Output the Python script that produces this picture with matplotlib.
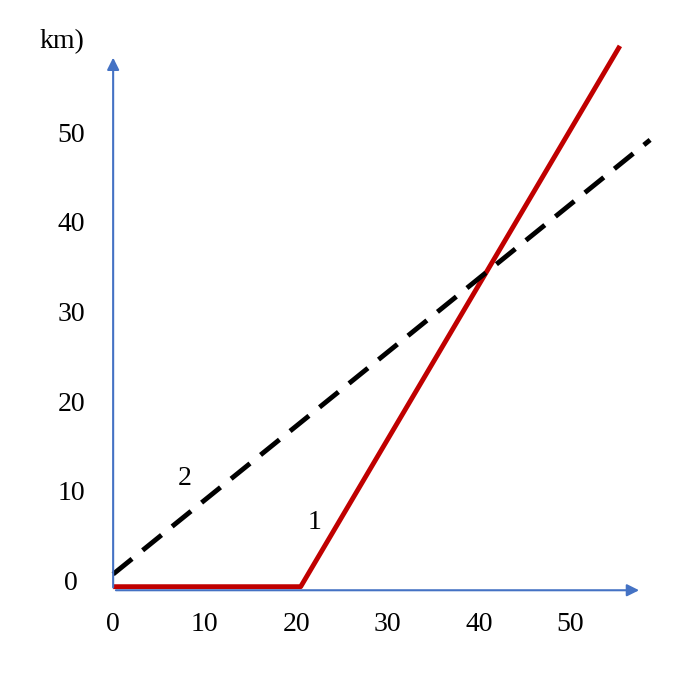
import matplotlib
matplotlib.use("Agg")
import matplotlib.pyplot as plt

red_x = [0, 20.5, 55.4]
red_y = [-0.4, -0.4, 60]
black_x = [0, 58.7]
black_y = [1, 49.5]
xticks = [0, 10, 20, 30, 40, 50]
yticks = [0, 10, 20, 30, 40, 50]

plt.rcParams['font.family'] = ['Liberation Serif', 'DejaVu Serif']
fig = plt.figure(figsize=(7, 6.94), dpi=100)
W, H = 700, 694
ax = fig.add_axes([104/W, 1-601/H, 558/W, 573/H])
ax.set_xlim(-1, 60)
ax.set_ylim(-2, 62)
for s in ax.spines.values():
    s.set_visible(False)
ax.set_xticks([]); ax.set_yticks([])

blue = '#4472C4'
ax.annotate('', xy=(57.8, -0.8), xytext=(0, -0.8),
            arrowprops=dict(arrowstyle='-|>', color=blue, lw=1.5, mutation_scale=18))
ax.annotate('', xy=(0, 59), xytext=(0, -0.8),
            arrowprops=dict(arrowstyle='-|>', color=blue, lw=1.5, mutation_scale=18))

ax.plot(red_x, red_y, color='#C00000', lw=3.5, solid_capstyle='butt')
ax.plot(black_x, black_y, color='black', lw=3.5, dashes=(5, 2.8))

fs = 20
for t in xticks:
    ax.text(t, -4.6, str(t), ha='center', va='center', fontsize=fs)
for t in yticks:
    ax.text(-4.6, t, str(t), ha='center', va='center', fontsize=fs)
ax.text(-8.0, 60.5, 'km)', ha='left', va='center', fontsize=fs)
ax.text(7.8, 11.7, '2', ha='center', va='center', fontsize=fs)
ax.text(22.0, 6.8, '1', ha='center', va='center', fontsize=fs)
for t in ax.texts:
    t.set_clip_on(False)

fig.savefig('out.png', dpi=100)
